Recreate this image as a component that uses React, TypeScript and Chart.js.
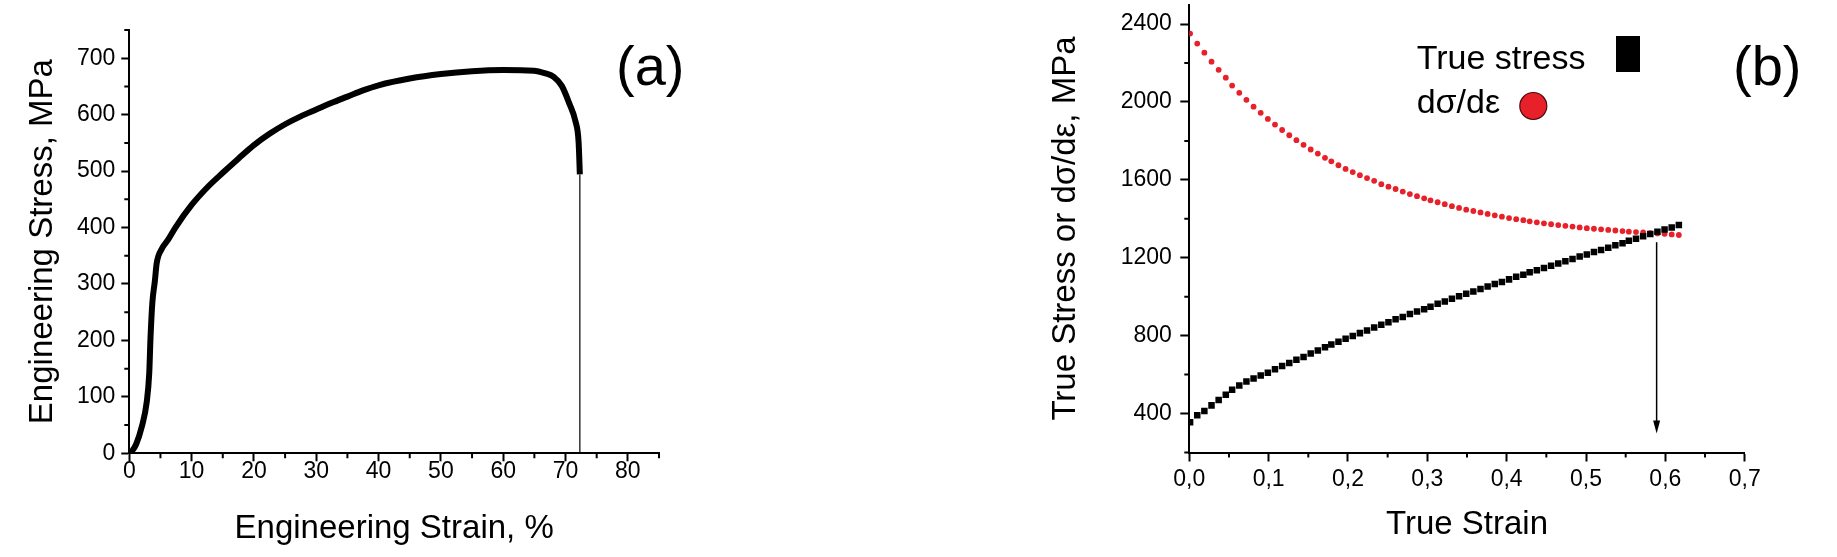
import React, { useEffect, useRef } from "react";
import { Chart, registerables } from "chart.js";

Chart.register(...registerables);

const FONT = "'Liberation Sans', Arial, Helvetica, sans-serif";

// ---------- Panel (a): engineering stress-strain ----------
const A_STRAIN = [0, 0.5, 1.1, 2.0, 2.8, 3.2, 3.4, 3.7, 4.1, 4.4, 5.2, 6.2, 7.4, 10, 12.5, 15, 17.5, 20, 22.5, 25, 27.5, 30, 32.5, 35, 37.5, 40, 45, 50, 55, 60, 64.9, 66.8, 68.1, 69.4, 70.6, 71.6, 72.1, 72.3];
const A_STRESS = [0, 5, 16, 47, 91, 142, 204, 267, 305, 337, 362, 378, 400, 440, 471, 497, 522, 546, 566, 583, 597, 609, 621, 632, 643, 652, 664, 672, 677, 679, 678, 673, 667, 651, 620, 588, 551, 494];
const A_FRACTURE_STRAIN = [72.3, 72.3];
const A_FRACTURE_STRESS = [494, 0];
const A_X_TICKS = [0, 10, 20, 30, 40, 50, 60, 70, 80];
const A_X_MINOR = [5, 15, 25, 35, 45, 55, 65, 75, 85];
const A_Y_TICKS = [0, 100, 200, 300, 400, 500, 600, 700];
const A_Y_MINOR = [50, 150, 250, 350, 450, 550, 650, 750];
const A_X_TITLE = "Engineering Strain, %";
const A_Y_TITLE = "Engineering Stress, MPa";
const A_LABEL = "(a)";

// ---------- Panel (b): true stress and strain-hardening rate ----------
const B_STRAIN = [0.001, 0.010, 0.019, 0.028, 0.037, 0.046, 0.054, 0.063, 0.072, 0.081, 0.090, 0.099, 0.108, 0.117, 0.126, 0.135, 0.144, 0.153, 0.162, 0.171, 0.179, 0.188, 0.197, 0.206, 0.215, 0.224, 0.233, 0.242, 0.251, 0.260, 0.269, 0.278, 0.287, 0.296, 0.304, 0.313, 0.322, 0.331, 0.340, 0.349, 0.358, 0.367, 0.376, 0.385, 0.394, 0.403, 0.412, 0.421, 0.429, 0.438, 0.447, 0.456, 0.465, 0.474, 0.483, 0.492, 0.501, 0.510, 0.519, 0.528, 0.537, 0.546, 0.554, 0.563, 0.572, 0.581, 0.590, 0.599, 0.608, 0.617];
const B_TRUE_STRESS = [355, 391, 413, 442, 469, 496, 522, 544, 564, 580, 595, 609, 627, 644, 660, 676, 691, 709, 724, 740, 755, 769, 784, 798, 813, 827, 842, 856, 869, 884, 896, 911, 924, 936, 949, 964, 976, 989, 1002, 1015, 1027, 1040, 1053, 1065, 1076, 1089, 1102, 1113, 1125, 1136, 1148, 1159, 1171, 1182, 1194, 1206, 1217, 1229, 1240, 1252, 1264, 1275, 1287, 1298, 1310, 1322, 1333, 1345, 1356, 1368];
const B_DSDE = [2351, 2300, 2253, 2207, 2165, 2125, 2084, 2047, 2011, 1976, 1944, 1913, 1884, 1856, 1829, 1804, 1780, 1756, 1735, 1713, 1695, 1675, 1656, 1640, 1624, 1609, 1595, 1578, 1565, 1553, 1540, 1527, 1516, 1505, 1495, 1485, 1475, 1465, 1456, 1447, 1440, 1433, 1425, 1418, 1411, 1404, 1398, 1393, 1387, 1382, 1377, 1372, 1368, 1364, 1360, 1356, 1352, 1349, 1346, 1343, 1340, 1337, 1334, 1332, 1330, 1327, 1325, 1323, 1320, 1317];
const B_X_TICKS = [0, 0.1, 0.2, 0.3, 0.4, 0.5, 0.6, 0.7];
const B_X_TICK_LABELS = ["0,0", "0,1", "0,2", "0,3", "0,4", "0,5", "0,6", "0,7"];
const B_X_MINOR = [0.05, 0.15, 0.25, 0.35, 0.45, 0.55, 0.65];
const B_Y_TICKS = [400, 800, 1200, 1600, 2000, 2400];
const B_Y_TICK_LABELS = ["400", "800", "1200", "1600", "2000", "2400"];
const B_Y_MINOR = [200, 600, 1000, 1400, 1800, 2200];
const B_ARROW_STRAIN = 0.589;
const B_ARROW_FROM = 1280;
const B_ARROW_TO = 297;
const B_SERIES = ["True stress", "dσ/dε"];
const B_X_TITLE = "True Strain";
const B_Y_TITLE = "True Stress or dσ/dε, MPa";
const B_LABEL = "(b)";

const RED = "#e8202a";
const TICK_SIZE = 23;

function minorTicks(id: string, xMinor: number[], yMinor: number[], len: number) {
  return {
    id,
    afterDraw(chart: any) {
      const { ctx, chartArea } = chart;
      const x = chart.scales.x;
      const y = chart.scales.y;
      ctx.save();
      ctx.strokeStyle = "#000";
      ctx.lineWidth = 2;
      ctx.beginPath();
      xMinor.forEach((v) => {
        const px = x.getPixelForValue(v);
        ctx.moveTo(px, chartArea.bottom);
        ctx.lineTo(px, chartArea.bottom + len);
      });
      yMinor.forEach((v) => {
        const py = y.getPixelForValue(v);
        ctx.moveTo(chartArea.left, py);
        ctx.lineTo(chartArea.left - len, py);
      });
      ctx.stroke();
      ctx.restore();
    },
  };
}

function panelLabel(id: string, text: string, x: number, baseline: number) {
  return {
    id,
    afterDraw(chart: any) {
      const ctx = chart.ctx;
      ctx.save();
      ctx.fillStyle = "#000";
      ctx.font = `56px ${FONT}`;
      ctx.textAlign = "left";
      ctx.textBaseline = "alphabetic";
      ctx.fillText(text, x, baseline);
      ctx.restore();
    },
  };
}

function axisBase(ticksArr: number[], size: { w?: number; h?: number }, tickLen: number, tickPad: number, labels?: string[]) {
  return {
    type: "linear" as const,
    afterBuildTicks: (s: any) => {
      s.ticks = ticksArr.map((v) => ({ value: v }));
    },
    afterFit: (s: any) => {
      if (size.w !== undefined) s.width = size.w;
      if (size.h !== undefined) s.height = size.h;
      s.paddingTop = 0;
      s.paddingBottom = 0;
      s.paddingLeft = 0;
      s.paddingRight = 0;
    },
    ticks: {
      color: "#000",
      font: { family: FONT, size: TICK_SIZE },
      padding: tickPad,
      maxRotation: 0,
      minRotation: 0,
      autoSkip: false,
      callback: (v: any, i: number) => (labels ? labels[i] : String(v)),
    },
    grid: {
      drawOnChartArea: false,
      drawTicks: true,
      tickLength: tickLen,
      tickWidth: 2,
      tickColor: "#000",
    },
    border: { display: true, color: "#000", width: 2 },
  };
}

function PanelA() {
  const ref = useRef<HTMLCanvasElement>(null);
  useEffect(() => {
    if (!ref.current) return;
    const chart = new Chart(ref.current, {
      type: "scatter",
      data: {
        datasets: [
          {
            label: "Engineering stress",
            data: A_STRAIN.map((x, i) => ({ x, y: A_STRESS[i] })),
            showLine: true,
            borderColor: "#000",
            backgroundColor: "#000",
            borderWidth: 6,
            pointRadius: 0,
            cubicInterpolationMode: "monotone",
          },
          {
            label: "Fracture",
            data: A_FRACTURE_STRAIN.map((x, i) => ({ x, y: A_FRACTURE_STRESS[i] })),
            showLine: true,
            borderColor: "#000",
            borderWidth: 1.2,
            pointRadius: 0,
          },
        ],
      },
      options: {
        responsive: false,
        animation: false,
        devicePixelRatio: 1,
        layout: { padding: { left: 0, top: 30, right: 241, bottom: 0 } },
        plugins: { legend: { display: false }, tooltip: { enabled: false } },
        scales: {
          x: {
            ...axisBase(A_X_TICKS, { h: 103.7 }, 8, -3),
            min: 0,
            max: 85,
            title: {
              display: true,
              text: A_X_TITLE,
              color: "#000",
              font: { family: FONT, size: 33 },
              padding: { top: 0, bottom: 8 },
            },
          },
          y: {
            ...axisBase(A_Y_TICKS, { w: 129.3 }, 8, 6),
            min: 0,
            max: 750,
            title: {
              display: true,
              text: A_Y_TITLE,
              color: "#000",
              font: { family: FONT, size: 33 },
              padding: { top: 23, bottom: 0 },
            },
          },
        },
      } as any,
      plugins: [minorTicks("minorA", A_X_MINOR, A_Y_MINOR, 5), panelLabel("labelA", A_LABEL, 616, 85)],
    });
    return () => chart.destroy();
  }, []);
  return <canvas ref={ref} width={900} height={557} style={{ position: "absolute", left: 0, top: 0 }} />;
}

function PanelB() {
  const ref = useRef<HTMLCanvasElement>(null);
  useEffect(() => {
    if (!ref.current) return;
    const arrowPlugin = {
      id: "arrowB",
      afterDatasetsDraw(chart: any) {
        const { ctx } = chart;
        const x = chart.scales.x.getPixelForValue(B_ARROW_STRAIN);
        const y0 = chart.scales.y.getPixelForValue(B_ARROW_FROM);
        const y1 = chart.scales.y.getPixelForValue(B_ARROW_TO);
        ctx.save();
        ctx.strokeStyle = "#000";
        ctx.fillStyle = "#000";
        ctx.lineWidth = 1.5;
        ctx.beginPath();
        ctx.moveTo(x, y0);
        ctx.lineTo(x, y1 - 10);
        ctx.stroke();
        ctx.beginPath();
        ctx.moveTo(x, y1);
        ctx.lineTo(x - 3.5, y1 - 13);
        ctx.lineTo(x + 3.5, y1 - 13);
        ctx.closePath();
        ctx.fill();
        ctx.restore();
      },
    };
    const legendPlugin = {
      id: "legendB",
      afterDraw(chart: any) {
        const { ctx } = chart;
        ctx.save();
        ctx.fillStyle = "#000";
        ctx.font = `34px ${FONT}`;
        ctx.textAlign = "left";
        ctx.textBaseline = "alphabetic";
        ctx.fillText(B_SERIES[0], 516.7, 69.3);
        ctx.fillText(B_SERIES[1], 516.7, 113.3);
        ctx.fillRect(716, 36, 24, 36);
        ctx.beginPath();
        ctx.arc(633.3, 106, 13.5, 0, Math.PI * 2);
        ctx.fillStyle = RED;
        ctx.fill();
        ctx.lineWidth = 1.2;
        ctx.strokeStyle = "#4a0a0a";
        ctx.stroke();
        ctx.restore();
      },
    };
    const chart = new Chart(ref.current, {
      type: "scatter",
      data: {
        datasets: [
          {
            label: B_SERIES[0],
            data: B_STRAIN.map((x, i) => ({ x, y: B_TRUE_STRESS[i] })),
            pointStyle: "rect",
            pointRadius: 4.6,
            backgroundColor: "#000",
            borderColor: "#000",
            borderWidth: 0,
          },
          {
            label: B_SERIES[1],
            data: B_STRAIN.map((x, i) => ({ x, y: B_DSDE[i] })),
            pointStyle: "circle",
            pointRadius: 2.9,
            backgroundColor: RED,
            borderColor: RED,
            borderWidth: 0,
          },
        ],
      },
      options: {
        responsive: false,
        animation: false,
        devicePixelRatio: 1,
        layout: { padding: { left: 0, top: 3.3, right: 92.3, bottom: 0 } },
        plugins: { legend: { display: false }, tooltip: { enabled: false } },
        scales: {
          x: {
            ...axisBase(B_X_TICKS, { h: 104.5 }, 9, 4.5, B_X_TICK_LABELS),
            min: 0,
            max: 0.7,
            title: {
              display: true,
              text: B_X_TITLE,
              color: "#000",
              font: { family: FONT, size: 33 },
              padding: { top: 0, bottom: 12.6 },
            },
          },
          y: {
            ...axisBase(B_Y_TICKS, { w: 289.3 }, 9, 8.5, B_Y_TICK_LABELS),
            min: 200,
            max: 2500,
            title: {
              display: true,
              text: B_Y_TITLE,
              color: "#000",
              font: { family: FONT, size: 33 },
              padding: { top: 146, bottom: 0 },
            },
          },
        },
      } as any,
      plugins: [minorTicks("minorB", B_X_MINOR, B_Y_MINOR, 5), arrowPlugin, legendPlugin, panelLabel("labelB", B_LABEL, 833, 85)],
    });
    return () => chart.destroy();
  }, []);
  return <canvas ref={ref} width={937} height={557} style={{ position: "absolute", left: 900, top: 0 }} />;
}

export default function App() {
  return (
    <div
      style={{
        position: "absolute",
        left: 0,
        top: 0,
        width: 1837,
        height: 557,
        background: "#fff",
        overflow: "hidden",
      }}
    >
      <PanelA />
      <PanelB />
    </div>
  );
}
